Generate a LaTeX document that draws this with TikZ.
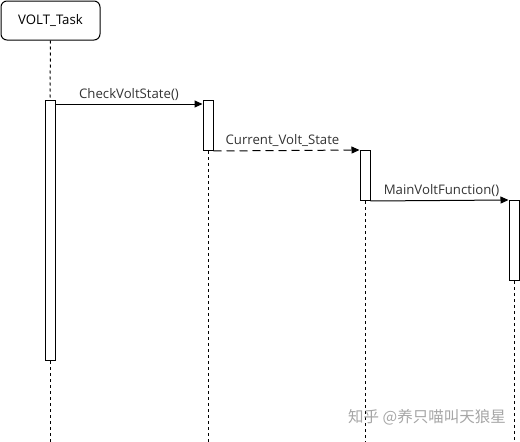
\documentclass[tikz,border=0pt]{standalone}
\usepackage{fontspec}
\setmainfont{Open Sans}
\newfontfamily\cjkfont{Noto Sans CJK SC}
\usetikzlibrary{arrows.meta,calc}
\begin{document}
\begin{tikzpicture}[x=1pt,y=-1pt,
  every node/.style={font=\fontsize{13.2}{16}\selectfont, inner sep=0pt},
  actor/.style={draw, line width=1pt, rounded corners=6pt, minimum width=99pt, minimum height=39pt},
  activation/.style={draw, line width=1pt, fill=white, minimum width=10pt, anchor=north},
  lifeline/.style={line width=1pt, dash pattern=on 3pt off 3pt},
  msg/.style={line width=1pt, -{Triangle[length=8pt,width=7pt]}},
  reply/.style={line width=1pt, dash pattern=on 8pt off 5pt, -{Triangle[length=8pt,width=7pt]}},
  lbl/.style={text=black!80}
]
\useasboundingbox (0,0) rectangle (520,442);
\node[actor] (task) at (50.5,20.5) {VOLT\_Task};
\coordinate (bottom) at (0,442);
% lifelines
\draw[lifeline] (task.south) -- (50,100);
\node[activation, minimum height=260pt] (a1) at (50,100) {};
\node[activation, minimum height=50pt] (a2) at (208,100) {};
\node[activation, minimum height=50pt] (a3) at (365,150) {};
\node[activation, minimum height=80pt] (a4) at (514,200) {};
\draw[lifeline] (a1.south) -- (a1.south |- bottom);
\draw[lifeline] (a2.south) -- (a2.south |- bottom);
\draw[lifeline] (a3.south) -- (a3.south |- bottom);
\draw[lifeline] (a4.south) -- (a4.south |- bottom);
% messages
\draw[msg] ($(a1.north east)+(0,4)$) -- node[lbl, above=3pt] (l1) {CheckVoltState()} ($(a2.north west)+(0,4)$);
\draw[reply] (a2.south east) -- node[lbl, above=3pt, xshift=-4pt] (l2) {Current\_Volt\_State} (a3.north west);
\draw[msg] (a3.south east) -- node[lbl, above=3pt, xshift=2pt] (l3) {MainVoltFunction()} (a4.north west);
% watermark
\node[text=black!35, font=\cjkfont\fontsize{15.5}{18}\selectfont] (wm) at (427,417) {知乎 @养只喵叫天狼星};
\end{tikzpicture}
\end{document}
